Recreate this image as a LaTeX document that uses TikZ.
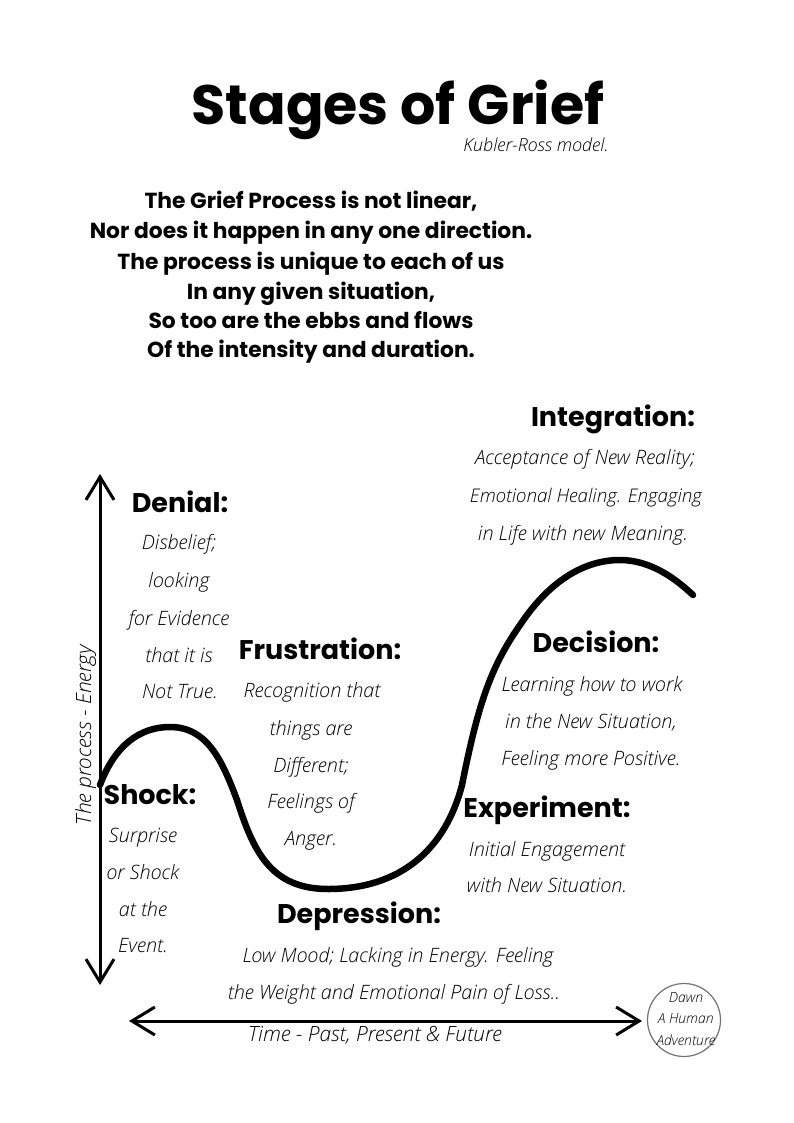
\documentclass[tikz,border=0pt]{standalone}
\usepackage{fontspec}
\usetikzlibrary{arrows.meta}
\setmainfont{Poppins}
\newfontfamily\headfont{Poppins}
\newfontfamily\handfont{Open Sans Light}[ItalicFont={Open Sans Light Italic}]
\tikzset{
  base/.style={anchor=base,inner sep=0pt,outer sep=0pt,text=black},
  titletext/.style={base,font=\headfont\bfseries\fontsize{55.5}{60}\selectfont},
  para/.style={base,font=\headfont\bfseries\fontsize{21.8}{24}\selectfont},
  heading/.style={base,font=\headfont\bfseries\fontsize{27}{28}\selectfont},
  hand/.style={base,yshift=1pt,font=\handfont\itshape\fontsize{19.8}{24}\selectfont},
  handsmall/.style={base,yshift=1pt,font=\handfont\itshape\fontsize{18.8}{24}\selectfont},
  handlarge/.style={base,yshift=1pt,font=\handfont\itshape\fontsize{21}{24}\selectfont},
  subtitle/.style={base,font=\handfont\itshape\fontsize{18}{20}\selectfont},
  axis/.style={line width=3pt,{Straight Barb[length=23pt,width=28pt,line width=3pt]}-{Straight Barb[length=23pt,width=28pt,line width=3pt]}},
  griefcurve/.style={line width=6.5pt,line cap=round,black},
  logotext/.style={base,font=\handfont\itshape\fontsize{14}{14}\selectfont}
}
\begin{document}
\begin{tikzpicture}[x=1pt,y=-1pt]
\useasboundingbox (0,0) rectangle (794,1123);
\fill[white] (0,0) rectangle (794,1123);
\node[titletext] (title) at (398,125) {Stages of Grief};
\node[subtitle] (sub) at (536,152) {Kubler-Ross model.};
\node[para] (p1) at (311,209) {The Grief Process is not linear,};
\node[para] (p2) at (311,239) {Nor does it happen in any one direction.};
\node[para] (p3) at (311,269) {The process is unique to each of us};
\node[para] (p4) at (311,299) {In any given situation,};
\node[para] (p5) at (311,328) {So too are the ebbs and flows};
\node[para] (p6) at (311,357) {Of the intensity and duration.};
% axes
\coordinate (vtop) at (100,474);
\coordinate (vbot) at (100,985);
\coordinate (hleft) at (129,1021);
\coordinate (hright) at (642,1021);
\draw[axis] (vbot) -- (vtop);
\draw[axis] (hleft) -- (hright);
% curve
\coordinate (c0) at (100,785);
\coordinate (c1) at (170,727);
\coordinate (c2) at (237,800);
\coordinate (c3) at (328,889);
\coordinate (c4) at (462,785);
\coordinate (c5) at (520,625);
\coordinate (c6) at (620,560);
\coordinate (c7) at (693,595);
\draw[griefcurve] (c0) .. controls (115,745) and (140,727) .. (c1)
  .. controls (207,727) and (222,760) .. (c2)
  .. controls (253,850) and (270,889) .. (c3)
  .. controls (400,889) and (445,850) .. (c4)
  .. controls (478,705) and (490,668) .. (c5)
  .. controls (550,580) and (585,560) .. (c6)
  .. controls (650,560) and (675,578) .. (c7);
% headings
\node[heading] (hInt) at (613,426) {Integration:};
\node[heading] (hDen) at (180,512) {Denial:};
\node[heading] (hFru) at (320,659) {Frustration:};
\node[heading] (hDec) at (596,652) {Decision:};
\node[heading] (hExp) at (547,817) {Experiment:};
\node[heading] (hSho) at (150,804) {Shock:};
\node[heading] (hDep) at (359,923) {Depression:};
% Integration
\node[hand] (i1) at (585,465) {Acceptance of New Reality;};
\node[handsmall] (i2) at (586,503) {Emotional Healing. Engaging};
\node[hand] (i3) at (583,541) {in Life with new Meaning.};
% Denial
\node[hand] (d1) at (179,550) {Disbelief;};
\node[hand] (d2) at (179,588) {looking};
\node[hand] (d3) at (179,626) {for Evidence};
\node[hand] (d4) at (179,663) {that it is};
\node[hand] (d5) at (180,699) {Not True.};
% Frustration
\node[hand] (f1) at (312,698) {Recognition that};
\node[hand] (f2) at (311,736) {things are};
\node[hand] (f3) at (311,773) {Different;};
\node[hand] (f4) at (311,809) {Feelings of};
\node[hand] (f5) at (311,846) {Anger.};
% Decision
\node[hand] (e1) at (592,692) {Learning how to work};
\node[hand] (e2) at (591,729) {in the New Situation,};
\node[hand] (e3) at (591,766) {Feeling more Positive.};
% Experiment
\node[hand] (x1) at (547,857) {Initial Engagement};
\node[hand] (x2) at (547,893) {with New Situation.};
% Shock
\node[hand] (s1) at (143,843) {Surprise};
\node[hand] (s2) at (143,880) {or Shock};
\node[hand] (s3) at (143,917) {at the};
\node[hand] (s4) at (143,953) {Event.};
% Depression
\node[hand] (l1) at (398,963) {Low Mood; Lacking in Energy. Feeling};
\node[hand] (l2) at (394,1000) {the Weight and Emotional Pain of Loss..};
% axis labels
\node[handlarge] (tl) at (375,1042) {Time - Past, Present \& Future};
\node[base,xshift=1pt,font=\handfont\itshape\fontsize{21}{24}\selectfont,rotate=90] (el) at (90,735) {The process - Energy};
% logo
\node[circle,draw=black!55,line width=1.2pt,minimum size=73pt,inner sep=0pt] (logo) at (684,1020) {};
\node[logotext] (lg1) at (686,1002) {Dawn};
\node[logotext] (lg2) at (686,1023) {A Human};
\node[logotext] (lg3) at (686,1045) {Adventure};
\end{tikzpicture}
\end{document}
